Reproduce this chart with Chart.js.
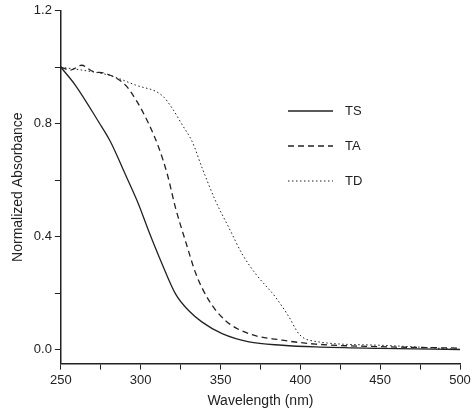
<!DOCTYPE html>
<html><head><meta charset="utf-8">
<script src="https://cdn.jsdelivr.net/npm/chart.js@4"></script>
<style>html,body{margin:0;padding:0;background:#fff}#w{width:474px;height:418px}</style>
</head><body><div id="w"><canvas id="c"></canvas></div>
<script>
const seriesNames = ["TS", "TA", "TD"];
const tsX = [250,259,273.6,281,290.4,298.7,305,313.4,321.8,330,338.5,351,367.8,388.7,409.6,450,500];
const tsY = [1.0,0.937,0.807,0.737,0.62,0.514,0.42,0.303,0.197,0.138,0.097,0.056,0.027,0.015,0.009,0.004,0.0];
const taX = [250,256,263,270,277.8,290.4,297.7,305,311.4,316.7,321.9,328,334.6,342.7,353,367.8,388.7,409.6,450,500];
const taY = [1.0,0.99,1.007,0.985,0.978,0.937,0.878,0.80,0.714,0.62,0.50,0.385,0.268,0.174,0.103,0.056,0.033,0.019,0.01,0.005];
const tdX = [250,263,280,296.7,313.4,319.7,326,332.2,338.5,346.9,355.2,363.6,372,384.5,392.9,399,405.4,450,500];
const tdY = [1.0,0.99,0.972,0.937,0.90,0.855,0.796,0.737,0.643,0.526,0.432,0.338,0.268,0.185,0.115,0.056,0.033,0.015,0.0];
const xTicks = [250,275,300,325,350,375,400,425,450,475,500];
const yTicks = [0,0.2,0.4,0.6,0.8,1.0,1.2];
const styles = [[], [6,4], [1.5,2.5]];
const xs=[tsX,taX,tdX], ys=[tsY,taY,tdY];
const datasets = seriesNames.map((n,i)=>({label:n,data:xs[i].map((x,j)=>({x,y:ys[i][j]})),borderColor:'#222',borderWidth:i==2?1:1.3,borderDash:styles[i],pointRadius:0,cubicInterpolationMode:'monotone',fill:false}));
const legendPlugin={id:'lg',afterDraw(ch){const c=ch.ctx;c.save();c.font='13px "Liberation Sans",Arial';c.fillStyle='#222';c.textBaseline='middle';
 datasets.forEach((d,i)=>{const y=111+i*35;c.strokeStyle='#222';c.lineWidth=d.borderWidth;c.setLineDash(d.borderDash);c.beginPath();c.moveTo(288,y);c.lineTo(333,y);c.stroke();c.setLineDash([]);c.fillText(d.label,345,y);});c.restore();}};
new Chart(document.getElementById('c'),{type:'line',data:{datasets},plugins:[legendPlugin],
options:{responsive:true,maintainAspectRatio:false,animation:false,layout:{padding:{top:2,right:14,left:6,bottom:4}},
plugins:{legend:{display:false},tooltip:{enabled:false}},
scales:{
x:{type:'linear',min:250,max:500,afterBuildTicks:a=>{a.ticks=xTicks.map(v=>({value:v}))},
 ticks:{autoSkip:false,maxRotation:0,color:'#222',font:{size:13,family:'"Liberation Sans",Arial'},callback:v=>v%50===0?String(v):''},
 grid:{drawOnChartArea:false,tickLength:6,color:'#222'},border:{color:'#222',width:1.5},
 title:{display:true,text:'Wavelength (nm)',color:'#222',font:{size:14,family:'"Liberation Sans",Arial'},padding:{top:2}}},
y:{min:-0.05,max:1.2,afterBuildTicks:a=>{a.ticks=yTicks.map(v=>({value:v}))},
 ticks:{autoSkip:false,color:'#222',font:{size:13,family:'"Liberation Sans",Arial'},callback:v=>{const r=Math.round(v*10);return r%4===0?(r/10).toFixed(1):''}},
 grid:{drawOnChartArea:false,tickLength:6,color:'#222'},border:{color:'#222',width:1.5},
 title:{display:true,text:'Normalized Absorbance',color:'#222',font:{size:14,family:'"Liberation Sans",Arial'},padding:{bottom:4}}}}}});
</script></body></html>
